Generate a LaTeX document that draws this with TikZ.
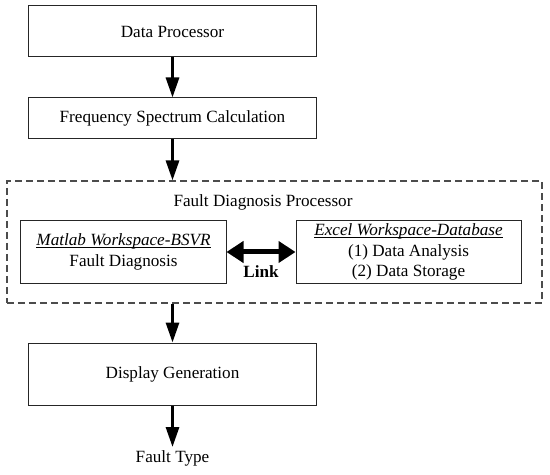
\documentclass[tikz,border=0pt]{standalone}
\usepackage{fontspec}
\setmainfont{Liberation Serif}
\usetikzlibrary{arrows.meta}
\newcommand{\uln}[1]{\leavevmode\vphantom{#1}$\underline{\smash{\hbox{#1}}}$}

\begin{document}
\begin{tikzpicture}[x=1bp,y=-1bp,
    every node/.style={font=\fontsize{17.2}{20.5}\selectfont},
    block/.style={draw=black!85, line width=1bp, minimum width=287bp, inner sep=0pt},
    inner/.style={draw=black!85, line width=1bp, minimum height=62bp, align=center, inner sep=0pt},
    flow/.style={-{Triangle[length=20bp,width=13bp]}, line width=3bp},
    link/.style={{Triangle[length=17bp,width=21bp]}-{Triangle[length=17bp,width=21bp]}, line width=5bp}]
    \useasboundingbox (0,0) rectangle (550,475);

    % Main chain
    \node[block, minimum height=51bp] (dp) at (172.5,31.5) {Data Processor};
    \node[block, minimum height=41bp] (fsc) at (172.5,118.5) {Frequency Spectrum Calculation};

    % Fault diagnosis processor (dashed)
    \node[draw=black!70, line width=1.2bp, dash pattern=on 7bp off 4bp,
          minimum width=535bp, minimum height=122bp, inner sep=0pt] (fdp) at (274.5,242) {};
    \node (fdptitle) at (263,202) {Fault Diagnosis Processor};
    \node[inner, minimum width=205bp] (mws) at (123.5,252)
      {\uln{\itshape Matlab Workspace-BSVR}\\Fault Diagnosis};
    \node[inner, minimum width=225bp] (ews) at (408.5,252)
      {\uln{\itshape Excel Workspace-Database}\\(1) Data Analysis\\(2) Data Storage};
    \draw[link] (mws.east) -- (ews.west);
    \node[font=\fontsize{17.2}{20.5}\selectfont\bfseries] (lnk) at (261,272) {Link};

    % Output
    \node[block, minimum height=62bp] (disp) at (172.5,374) {Display Generation};
    \node[inner sep=3bp] (ft) at (172.5,458) {Fault Type};

    % Arrows
    \draw[flow] (dp) -- (fsc);
    \draw[flow] (fsc.south) -- (fsc.south |- fdp.north);
    \draw[flow] (disp.north |- fdp.south) -- (disp.north);
    \draw[flow] (disp) -- (ft);
\end{tikzpicture}
\end{document}
